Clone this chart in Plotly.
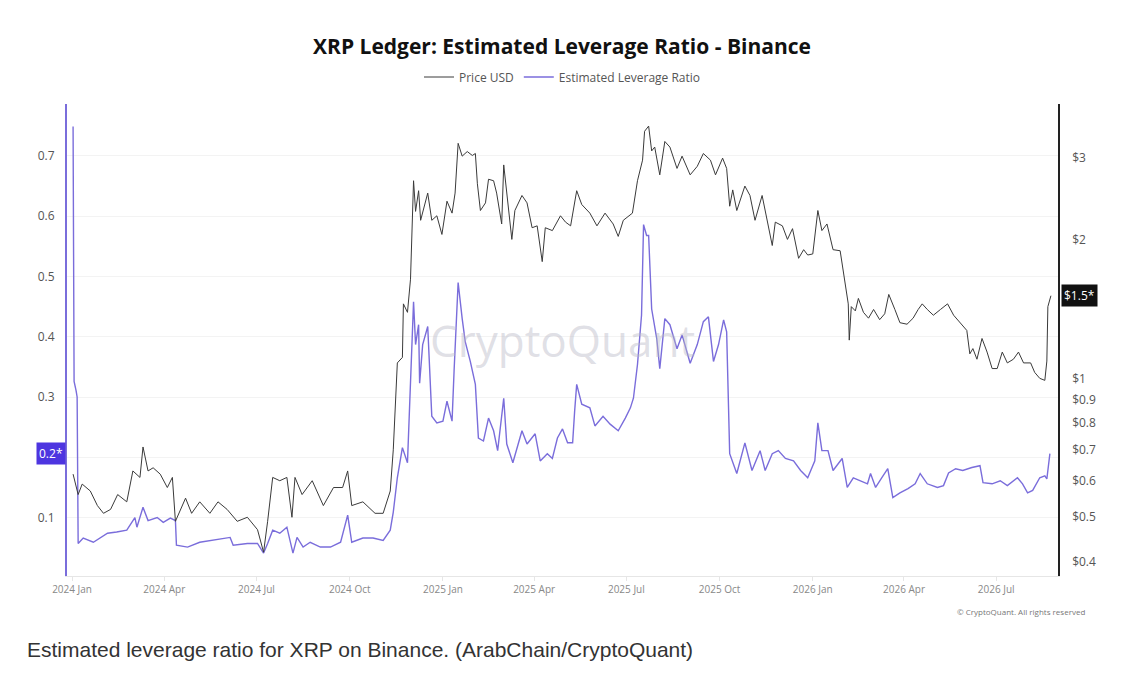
import math
import pandas as pd
import plotly.graph_objects as go

# ---- data ----
START = "2024-01-01"

# Price USD: days since START, value
price_day = [1, 6, 10, 18, 25, 31, 38, 45, 54, 60, 67, 70, 75, 80, 87, 94, 99, 102, 112, 118,
             126, 136, 144, 153, 163, 173, 183, 189, 193, 198, 205, 212, 217, 220, 227, 237, 248,
             258, 267, 272, 276, 287, 299, 307, 314, 317, 321, 326, 327, 331, 334, 337, 339, 342,
             344, 348, 351, 355, 360, 365, 370, 375, 378, 381, 385, 390, 395, 398, 400, 403, 408,
             411, 416, 419, 424, 426, 429, 434, 437, 444, 449, 454, 459, 464, 467, 474, 482, 487,
             492, 498, 503, 511, 518, 526, 534, 539, 544, 553, 558, 563, 565, 569, 572, 575, 580,
             585, 590, 597, 602, 610, 617, 623, 630, 635, 642, 646, 649, 652, 656, 664, 669, 674,
             681, 686, 691, 694, 701, 706, 711, 717, 722, 726, 731, 736, 740, 745, 751, 758, 763,
             766, 767, 769, 773, 776, 781, 786, 791, 797, 802, 806, 812, 817, 824, 830, 835, 839,
             844, 850, 857, 864, 870, 876, 883, 886, 889, 893, 898, 903, 908, 913, 918, 923, 929,
             934, 939, 946, 950, 955, 960, 962, 963, 966]
price_usd = [0.62, 0.56, 0.59, 0.57, 0.53, 0.51, 0.52, 0.56, 0.54, 0.63, 0.61, 0.71, 0.63, 0.64,
             0.62, 0.58, 0.61, 0.49, 0.55, 0.51, 0.54, 0.51, 0.54, 0.52, 0.49, 0.50, 0.47, 0.42,
             0.49, 0.61, 0.60, 0.61, 0.50, 0.61, 0.56, 0.60, 0.53, 0.58, 0.58, 0.63, 0.53, 0.54,
             0.51, 0.51, 0.57, 0.70, 1.08, 1.11, 1.45, 1.39, 1.64, 2.68, 2.30, 2.55, 2.20, 2.40,
             2.52, 2.20, 2.25, 2.05, 2.42, 2.28, 2.52, 3.23, 3.03, 3.10, 3.04, 3.07, 2.64, 2.31,
             2.40, 2.70, 2.68, 2.52, 2.16, 2.90, 2.49, 2.00, 2.31, 2.49, 2.40, 2.12, 2.14, 1.79,
             2.12, 2.09, 2.25, 2.18, 2.14, 2.55, 2.38, 2.28, 2.14, 2.28, 2.16, 2.03, 2.20, 2.28,
             2.68, 2.97, 3.43, 3.52, 3.11, 3.17, 2.76, 3.26, 3.17, 2.85, 3.03, 2.76, 2.88, 3.07,
             2.97, 2.76, 3.00, 2.85, 2.36, 2.56, 2.31, 2.61, 2.49, 2.20, 2.49, 2.20, 1.94, 2.18,
             2.14, 2.00, 2.11, 1.82, 1.90, 1.85, 1.86, 2.31, 2.09, 2.16, 1.90, 1.89, 1.59, 1.45,
             1.21, 1.43, 1.40, 1.49, 1.39, 1.35, 1.41, 1.34, 1.38, 1.52, 1.41, 1.32, 1.31, 1.35,
             1.41, 1.45, 1.41, 1.37, 1.41, 1.45, 1.37, 1.32, 1.27, 1.13, 1.16, 1.10, 1.22, 1.14,
             1.05, 1.05, 1.14, 1.08, 1.10, 1.14, 1.08, 1.08, 1.03, 1.00, 0.99, 1.09, 1.43, 1.51]

# Estimated Leverage Ratio: days since START, value
lev_day = [1, 2, 4, 5, 6, 11, 21, 28, 35, 44, 54, 62, 64, 70, 75, 84, 90, 97, 102, 103, 114, 126,
           139, 156, 159, 173, 183, 189, 193, 198, 205, 212, 218, 222, 228, 235, 245, 255, 265,
           272, 276, 287, 297, 307, 314, 317, 321, 326, 331, 337, 339, 342, 343, 346, 351, 355,
           360, 366, 370, 375, 377, 381, 385, 388, 393, 398, 401, 406, 411, 416, 420, 426, 429,
           435, 444, 449, 457, 462, 469, 474, 479, 484, 489, 494, 496, 498, 503, 511, 516, 524,
           531, 539, 546, 551, 554, 558, 562, 564, 567, 569, 572, 577, 580, 585, 590, 597, 602,
           610, 617, 623, 628, 633, 638, 643, 646, 649, 656, 664, 671, 679, 684, 691, 697, 704,
           712, 719, 726, 733, 736, 740, 746, 751, 760, 765, 771, 778, 785, 788, 793, 799, 805,
           810, 817, 825, 832, 837, 844, 854, 860, 865, 872, 879, 888, 896, 899, 908, 916, 923,
           933, 938, 943, 948, 955, 960, 962, 965]
lev_ratio = [0.749, 0.326, 0.310, 0.300, 0.057, 0.066, 0.059, 0.066, 0.074, 0.076, 0.079, 0.100,
             0.084, 0.117, 0.095, 0.100, 0.092, 0.099, 0.095, 0.054, 0.051, 0.059, 0.062, 0.067,
             0.054, 0.057, 0.057, 0.041, 0.057, 0.079, 0.074, 0.084, 0.041, 0.067, 0.051, 0.059,
             0.051, 0.051, 0.059, 0.104, 0.059, 0.066, 0.066, 0.062, 0.079, 0.109, 0.166, 0.216,
             0.191, 0.458, 0.387, 0.420, 0.323, 0.387, 0.417, 0.268, 0.257, 0.260, 0.293, 0.260,
             0.343, 0.490, 0.430, 0.392, 0.359, 0.321, 0.232, 0.227, 0.265, 0.244, 0.211, 0.298,
             0.222, 0.191, 0.244, 0.222, 0.239, 0.194, 0.206, 0.198, 0.232, 0.247, 0.224, 0.224,
             0.277, 0.321, 0.288, 0.282, 0.252, 0.268, 0.255, 0.244, 0.265, 0.282, 0.298, 0.354,
             0.436, 0.586, 0.568, 0.568, 0.446, 0.397, 0.347, 0.430, 0.420, 0.380, 0.403, 0.356,
             0.387, 0.425, 0.433, 0.359, 0.387, 0.428, 0.408, 0.206, 0.173, 0.224, 0.178, 0.211,
             0.178, 0.206, 0.211, 0.198, 0.194, 0.178, 0.166, 0.194, 0.257, 0.211, 0.211, 0.178,
             0.198, 0.150, 0.166, 0.161, 0.156, 0.173, 0.150, 0.166, 0.181, 0.133, 0.141, 0.148,
             0.156, 0.173, 0.156, 0.150, 0.153, 0.174, 0.181, 0.178, 0.183, 0.186, 0.158, 0.156,
             0.161, 0.153, 0.166, 0.156, 0.141, 0.145, 0.166, 0.169, 0.164, 0.206]

left_ticks = [0.1, 0.2, 0.3, 0.4, 0.5, 0.6, 0.7]
right_ticks = [0.4, 0.5, 0.6, 0.7, 0.8, 0.9, 1, 2, 3]
right_tick_text = ["$0.4", "$0.5", "$0.6", "$0.7", "$0.8", "$0.9", "$1", "$2", "$3"]

title_text = "XRP Ledger: Estimated Leverage Ratio - Binance"
caption_text = "Estimated leverage ratio for XRP on Binance. (ArabChain/CryptoQuant)"

# ---- build ----
start = pd.Timestamp(START)
price_dates = start + pd.to_timedelta(price_day, unit="D")
lev_dates = start + pd.to_timedelta(lev_day, unit="D")

PRICE_COLOR = "#3a3a3a"
LEV_COLOR = "#7a6ddb"
FONT = "Open Sans"

fig = go.Figure()
fig.add_trace(go.Scatter(x=price_dates, y=price_usd, name="Price USD", mode="lines",
                         line=dict(color=PRICE_COLOR, width=1), yaxis="y2"))
fig.add_trace(go.Scatter(x=lev_dates, y=lev_ratio, name="Estimated Leverage Ratio", mode="lines",
                         line=dict(color=LEV_COLOR, width=1.4), yaxis="y"))

fig.update_layout(
    width=1124, height=699,
    margin=dict(l=67, r=66, t=100, b=123),
    paper_bgcolor="white", plot_bgcolor="white",
    font=dict(family=FONT, color="#555"),
    title=dict(text="<b>" + title_text + "</b>", x=0.5, xanchor="center",
               y=1 - 47 / 699, yanchor="middle", yref="container",
               font=dict(size=21, color="#111", family=FONT)),
    showlegend=True,
    legend=dict(orientation="h", x=0.5, xanchor="center", yref="container",
                y=1 - 77 / 699, yanchor="middle", font=dict(size=12, color="#555"),
                itemwidth=30, bgcolor="rgba(0,0,0,0)"),
    xaxis=dict(type="date", range=["2023-12-27", "2026-08-31"],
               tick0="2024-01-01", dtick="M3", tickformat="%Y %b",
               showgrid=False, showline=True, linecolor="#e6e6e6", linewidth=1,
               ticks="outside", ticklen=4, tickcolor="#e6e6e6",
               tickfont=dict(size=10, color="#888"), zeroline=False),
    yaxis=dict(range=[0.003, 0.787], tickvals=left_ticks,
               ticktext=[f"{v:.1f}" for v in left_ticks],
               showgrid=True, gridcolor="#f3f3f3", zeroline=False,
               showline=True, linecolor=LEV_COLOR, linewidth=2,
               ticks="", ticklabelstandoff=8,
               tickfont=dict(size=12, color="#555")),
    yaxis2=dict(type="log", overlaying="y", side="right",
                range=[math.log10(0.373), math.log10(3.94)],
                tickvals=right_ticks, ticktext=right_tick_text,
                showgrid=False, zeroline=False, showline=True,
                linecolor="#222", linewidth=1.5, ticks="", ticklabelstandoff=10,
                tickfont=dict(size=12, color="#555")),
)

# watermark
fig.add_annotation(text="CryptoQuant", xref="paper", yref="paper", x=0.5, y=0.5,
                   showarrow=False, font=dict(size=44, color="rgba(185,185,198,0.45)", family=FONT))

# last value badges
fig.add_annotation(text="0.2*", xref="paper", yref="y", x=0, y=lev_ratio[-1],
                   xanchor="right", yanchor="middle", xshift=-1, showarrow=False,
                   bgcolor="#4d35e0", font=dict(size=12, color="white", family=FONT),
                   borderpad=2)
fig.add_annotation(text="$1.5*", xref="paper", yref="y2", x=1, y=math.log10(price_usd[-1]),
                   xanchor="left", yanchor="middle", xshift=3, showarrow=False,
                   bgcolor="#111", font=dict(size=12, color="white", family=FONT),
                   borderpad=2)

# copyright
fig.add_annotation(text="© CryptoQuant. All rights reserved", xref="paper", yref="paper",
                   x=(1087 - 67) / 991, y=(576 - 612) / 476, xanchor="right", yanchor="middle",
                   showarrow=False, font=dict(size=8, color="#777", family=FONT))

# caption
fig.add_annotation(text=caption_text, xref="paper", yref="paper",
                   x=(25 - 67) / 991, y=(576 - 650) / 476, xanchor="left", yanchor="middle",
                   showarrow=False, font=dict(size=21, color="#333", family="Liberation Sans"))

fig.write_html("out.html", config={"displayModeBar": False},
               post_script="document.body.style.margin='0';")
